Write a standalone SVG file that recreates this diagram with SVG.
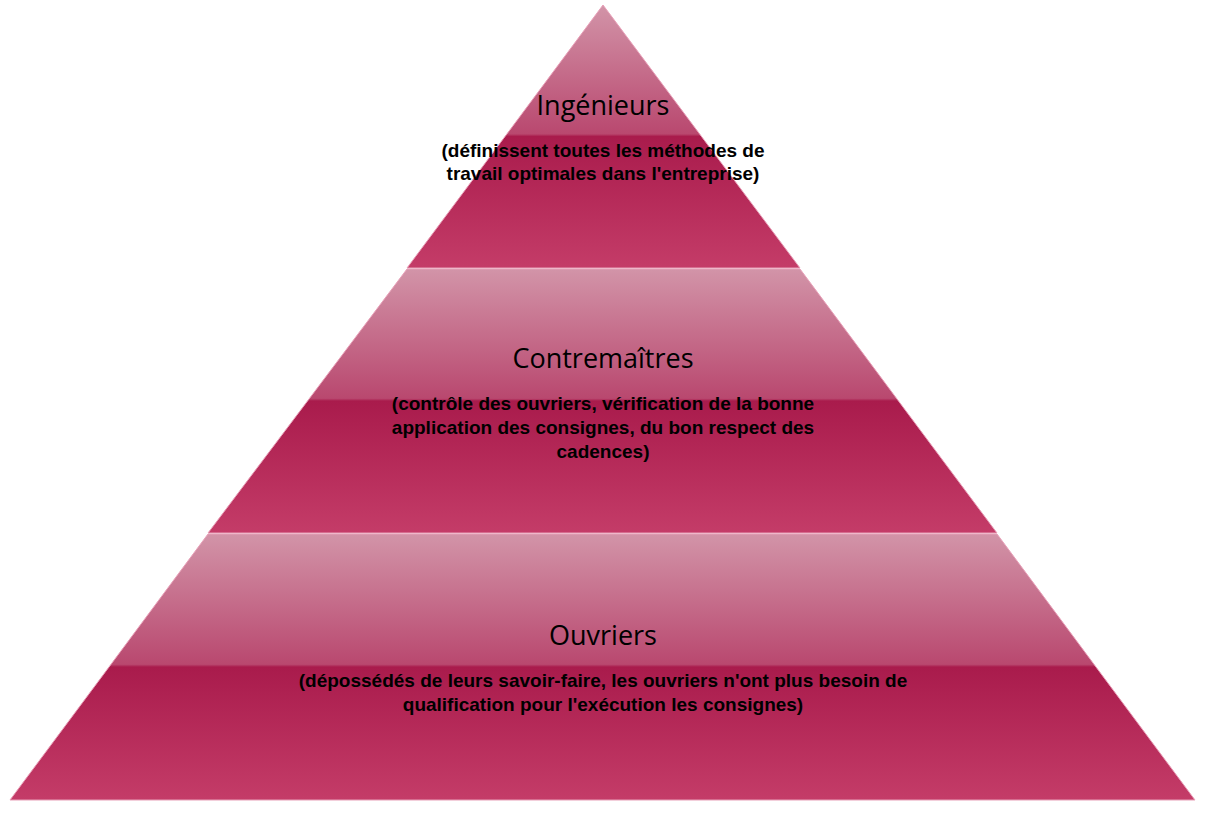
<svg xmlns="http://www.w3.org/2000/svg" width="1205" height="813" viewBox="0 0 1205 813">
<defs>
<linearGradient id="g" x1="0" y1="0" x2="0" y2="1">
<stop offset="0" stop-color="#d294a8"/>
<stop offset="0.49" stop-color="#b9486f"/>
<stop offset="0.5" stop-color="#a91b4c"/>
<stop offset="1" stop-color="#c43c68"/>
</linearGradient>
<linearGradient id="gt" x1="0" y1="0" x2="0" y2="1">
<stop offset="0" stop-color="#d294a8"/>
<stop offset="0.49" stop-color="#b9486f"/>
<stop offset="0.5" stop-color="#a91b4c"/>
<stop offset="1" stop-color="#c43c68"/>
</linearGradient>
</defs>
<style>
.t{fill:url(#g);stroke:#e8a0b8;stroke-width:1}
.h{font-family:"Open Sans","Liberation Sans",sans-serif;font-size:27px;fill:#000;text-anchor:middle}
.s{font-family:"Liberation Sans",sans-serif;font-weight:bold;font-size:19px;fill:#000;text-anchor:middle}
</style>
<rect width="1205" height="813" fill="#fff"/>
<g id="tier-top">
<polygon class="t" points="603,5 800,268 407,268"/>
<text class="h" x="603" y="115">Ingénieurs</text>
<text class="s" x="603" y="157">(définissent toutes les méthodes de</text>
<text class="s" x="603" y="180">travail optimales dans l'entreprise)</text>
</g>
<g id="tier-middle">
<polygon class="t" points="407,269 800,269 997,533 208,533"/>
<text class="h" x="603" y="368">Contremaîtres</text>
<text class="s" x="603" y="410">(contrôle des ouvriers, vérification de la bonne</text>
<text class="s" x="603" y="434">application des consignes, du bon respect des</text>
<text class="s" x="603" y="458">cadences)</text>
</g>
<g id="tier-bottom">
<polygon class="t" points="208,534 997,534 1195,800 10,800"/>
<text class="h" x="603" y="645">Ouvriers</text>
<text class="s" x="603" y="687">(dépossédés de leurs savoir-faire, les ouvriers n'ont plus besoin de</text>
<text class="s" x="603" y="711">qualification pour l'exécution les consignes)</text>
</g>
<g id="connectors"/>
</svg>
